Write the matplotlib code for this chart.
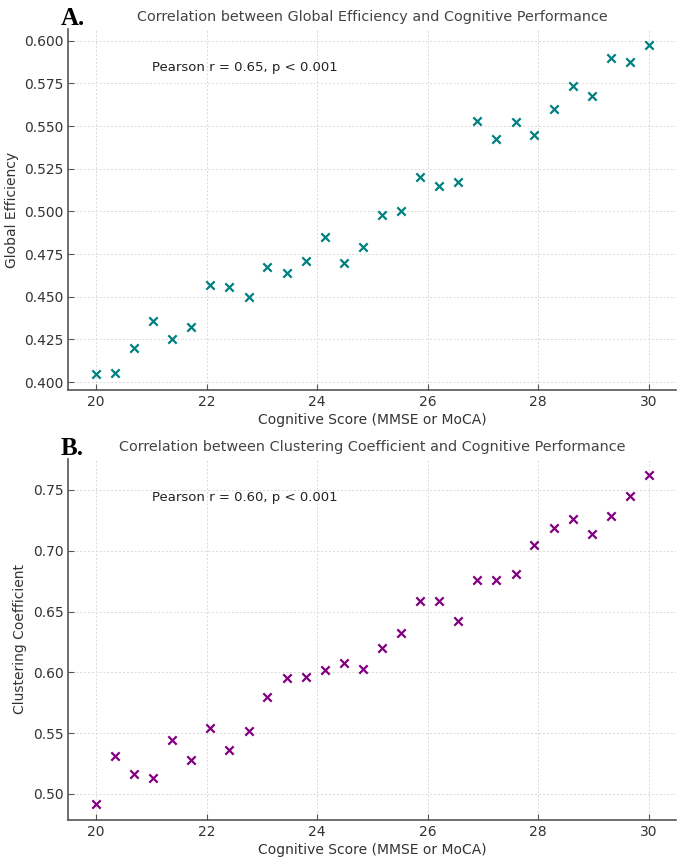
import matplotlib
matplotlib.use("Agg")
import matplotlib.pyplot as plt

cognitive_score = [20.00, 20.34, 20.69, 21.03, 21.38, 21.72, 22.07, 22.41, 22.76, 23.10,
                   23.45, 23.79, 24.14, 24.48, 24.83, 25.17, 25.52, 25.86, 26.21, 26.55,
                   26.90, 27.24, 27.59, 27.93, 28.28, 28.62, 28.97, 29.31, 29.66, 30.00]

global_efficiency = [0.405, 0.4055, 0.420, 0.436, 0.425, 0.432, 0.457, 0.456, 0.450, 0.4675,
                     0.464, 0.471, 0.485, 0.470, 0.479, 0.498, 0.500, 0.520, 0.515, 0.517,
                     0.5527, 0.5427, 0.5525, 0.5445, 0.560, 0.5736, 0.5677, 0.590, 0.5873, 0.5973]

clustering_coeff = [0.492, 0.531, 0.516, 0.513, 0.544, 0.528, 0.554, 0.536, 0.552, 0.580,
                    0.595, 0.596, 0.602, 0.608, 0.603, 0.620, 0.632, 0.659, 0.659, 0.642,
                    0.676, 0.676, 0.681, 0.705, 0.719, 0.7265, 0.7136, 0.729, 0.745, 0.762]

panels = [
    ("A.", "Correlation between Global Efficiency and Cognitive Performance",
     "Global Efficiency", global_efficiency, "teal", "Pearson r = 0.65, p < 0.001"),
    ("B.", "Correlation between Clustering Coefficient and Cognitive Performance",
     "Clustering Coefficient", clustering_coeff, "purple", "Pearson r = 0.60, p < 0.001"),
]

fig = plt.figure(figsize=(6.85, 8.67), dpi=100)
positions = [[0.0999, 0.5502, 0.8876, 0.4164], [0.0999, 0.0542, 0.8876, 0.4164]]
text_color = "#333333"

for pos, (lab, title, ylabel, yvals, color, stat) in zip(positions, panels):
    ax = fig.add_axes(pos)
    ax.scatter(cognitive_score, yvals, marker="x", color=color, s=36, linewidths=1.6, zorder=3)
    ax.set_title(title, fontsize=10.4, color="#444444", pad=6)
    ax.set_xlabel("Cognitive Score (MMSE or MoCA)", fontsize=10, color=text_color, labelpad=3)
    ax.set_ylabel(ylabel, fontsize=10, color=text_color, labelpad=4)
    ax.grid(True, linestyle=(0, (2, 2)), color="#d9d9d9", linewidth=0.7)
    ax.set_axisbelow(True)
    for s in ["top", "right"]:
        ax.spines[s].set_visible(False)
    for s in ["left", "bottom"]:
        ax.spines[s].set_color("#555555")
        ax.spines[s].set_linewidth(1.2)
    ax.tick_params(direction="in", length=4, color="#555555", labelsize=10, labelcolor=text_color)
    ax.set_xticks([20, 22, 24, 26, 28, 30])
    ax.text(0.1375, 0.892, stat, transform=ax.transAxes, ha="left", va="center",
            fontsize=9.5, color="#222222")
    ax.text(-0.013, 1.03, lab, transform=ax.transAxes, ha="left", va="center",
            fontsize=18, fontweight="bold", family="Liberation Serif", color="black")

fig.savefig("out.png", dpi=100)
